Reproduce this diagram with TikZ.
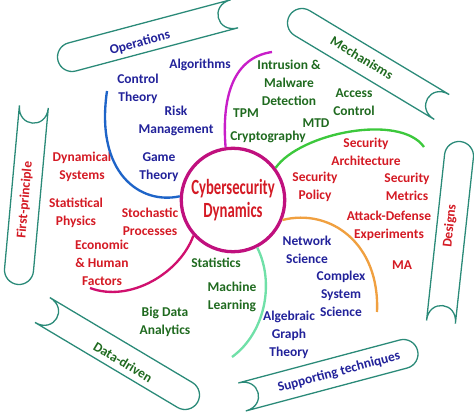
\documentclass[tikz,border=0pt]{standalone}
\usepackage{fontspec}
\setmainfont{Carlito}
\newfontfamily\hubfont[FakeStretch=0.68]{Carlito}
\usetikzlibrary{calc}

\definecolor{topicblue}{HTML}{22229A}
\definecolor{topicgreen}{HTML}{1F6A1F}
\definecolor{topicred}{HTML}{D41A24}
\definecolor{podteal}{HTML}{2A8A78}
\definecolor{hubrim}{HTML}{C0107E}
\definecolor{arcblue}{HTML}{1E64C8}
\definecolor{arcviolet}{HTML}{C81EC8}
\definecolor{arcgreen}{HTML}{3CC83C}
\definecolor{arcorange}{HTML}{F0A040}
\definecolor{arcmint}{HTML}{70E0A8}
\definecolor{arccrimson}{HTML}{D0106E}

\begin{document}
\begin{tikzpicture}[x=0.03cm, y=0.03cm,
        topic/.style={align=center, inner sep=0.5pt, font=\bfseries\fontsize{11.5}{15.3}\selectfont},
        pod/.style={podteal, line width=1.1pt},
        branch/.style={line width=2pt}]

        \useasboundingbox (0, 0) rectangle (474, 413);

        % the six pods: round end at (\rx,\ry), notch end along \ang
        \foreach \rx/\ry/\ang/\len in {72/356/14.9/168, 302/390/-31/163, 459/257/-96.2/167,
                                      403.5/59/194.9/167, 185/18/149.2/166, 19/143/84.8/164} {
            \begin{scope}[shift={(\rx, \ry)}, rotate=\ang]
                \draw[pod] (0, 14.5) -- (\len, 14.5)
                    .. controls (\len-22, 14.5) and (\len-22, -14.5) .. (\len, -14.5)
                    -- (0, -14.5) arc[start angle=-90, end angle=-270, radius=14.5];
            \end{scope}
        }

        \node[topic, topicblue, rotate=15] (operations) at (140, 370) {Operations};
        \node[topic, topicgreen, rotate=-31] (mechanisms) at (362, 355) {Mechanisms};
        \node[topic, topicred, rotate=84] (designs) at (450, 187) {Designs};
        \node[topic, topicblue, rotate=15] (supporting) at (339, 41) {Supporting techniques};
        \node[topic, topicgreen, rotate=-31] (datadriven) at (123, 51) {Data-driven};
        \node[topic, topicred, rotate=85] (firstprinciple) at (25, 213) {First-principle};

        % hub
        \node[circle, draw=hubrim, line width=2.8pt, minimum size=2.85cm, align=center,
              text=topicred, font=\hubfont\bfseries\fontsize{18.5}{19}\selectfont] (hub) at (233, 213)
              {Cybersecurity\\Dynamics};

        % blue topics
        \node[topic, topicblue] (algorithms) at (200, 348) {Algorithms};
        \node[topic, topicblue] (control) at (138, 324) {Control\\Theory};
        \node[topic, topicblue] (risk) at (176, 292) {Risk\\Management};
        \node[topic, topicblue] (game) at (159, 246) {Game\\Theory};
        \node[topic, topicblue] (network) at (307, 163) {Network\\Science};
        \node[topic, topicblue] (complex) at (341, 119) {Complex\\System\\Science};
        \node[topic, topicblue] (algebraic) at (289, 78) {Algebraic\\Graph\\Theory};

        % green topics
        \node[topic, topicgreen] (intrusion) at (289, 330) {Intrusion \&\\Malware\\Detection};
        \node[topic, topicgreen] (access) at (354, 311) {Access\\Control};
        \node[topic, topicgreen] (tpm) at (246, 300) {TPM};
        \node[topic, topicgreen] (mtd) at (316, 290) {MTD};
        \node[topic, topicgreen] (crypto) at (268, 276) {Cryptography};
        \node[topic, topicgreen] (statistics) at (216, 150) {Statistics};
        \node[topic, topicgreen] (learning) at (232, 116) {Machine\\Learning};
        \node[topic, topicgreen] (bigdata) at (165, 91) {Big Data\\Analytics};

        % red topics
        \node[topic, topicred] (dynamical) at (82, 246) {Dynamical\\Systems};
        \node[topic, topicred] (physics) at (76, 200) {Statistical\\Physics};
        \node[topic, topicred] (stochastic) at (150, 191) {Stochastic\\Processes};
        \node[topic, topicred] (economic) at (102, 150) {Economic\\\& Human\\Factors};
        \node[topic, topicred] (architecture) at (366, 261) {Security\\Architecture};
        \node[topic, topicred] (policy) at (315, 226) {Security\\Policy};
        \node[topic, topicred] (metrics) at (407, 226) {Security\\Metrics};
        \node[topic, topicred] (attack) at (389, 187) {Attack-Defense\\Experiments};
        \node[topic, topicred] (ma) at (402, 148) {MA};

        % branches out of the hub
        \coordinate (blueend) at (107, 322);
        \coordinate (violetend) at (272, 361);
        \coordinate (greenend) at (424, 266);
        \coordinate (orangeend) at (377, 101);
        \coordinate (mintend) at (232, 56);
        \coordinate (crimsonend) at (90, 125);

        \draw[branch, arcblue] (hub.176) .. controls (140, 208) and (95, 240) .. (blueend);
        \draw[branch, arcviolet] (hub.98) .. controls (222, 310) and (230, 355) .. (violetend);
        \draw[branch, arcgreen] (hub.37) .. controls (300, 280) and (400, 300) .. (greenend);
        \draw[branch, arcorange] (hub.-22) .. controls (330, 205) and (380, 170) .. (orangeend);
        \draw[branch, arcmint] (hub.-63) .. controls (275, 130) and (265, 80) .. (mintend);
        \draw[branch, arccrimson] (hub.222) .. controls (180, 140) and (130, 110) .. (crimsonend);

    \end{tikzpicture}
\end{document}
